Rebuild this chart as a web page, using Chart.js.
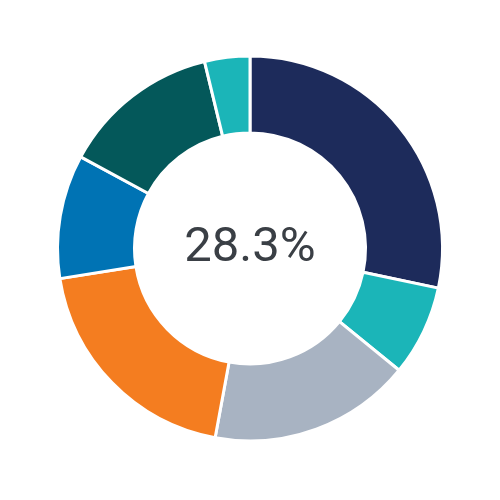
<!DOCTYPE html>
<html>
<head>
<meta charset="utf-8">
<script src="https://cdn.jsdelivr.net/npm/chart.js@4"></script>
<style>
  html, body { margin: 0; padding: 0; background: #fff; }
  #wrap { width: 500px; height: 500px; }
</style>
</head>
<body>
<div id="wrap"><canvas id="chart"></canvas></div>
<script>
var labels = ["A", "B", "C", "D", "E", "F", "G"];
var values = [28.3, 7.6, 17.0, 19.6, 10.4, 13.3, 3.8];
var colors = ["#1d2b5b", "#1bb5b8", "#a8b3c2", "#f47d20", "#0073b4", "#04585a", "#1bb5b8"];
var centerText = "28.3%";

// draw the big number in the hole
var centerLabel = {
  id: 'centerLabel',
  afterDraw: function(chart) {
    var ctx = chart.ctx;
    var meta = chart.getDatasetMeta(0).data[0];
    ctx.save();
    ctx.font = '49px Roboto';
    ctx.fillStyle = '#3a3f45';
    ctx.textAlign = 'center';
    ctx.textBaseline = 'middle';
    ctx.fillText(centerText, meta.x, meta.y);
    ctx.restore();
  }
};

new Chart(document.getElementById("chart"), {
  type: 'doughnut',
  data: {
    labels: labels,
    datasets: [{
      data: values,
      backgroundColor: colors,
      borderColor: '#ffffff',
      borderWidth: 3
    }]
  },
  options: {
    responsive: true,
    maintainAspectRatio: false,
    animation: false,
    cutout: '60%',
    layout: { padding: { left: 56, right: 56, top: 54, bottom: 57 } },
    plugins: {
      legend: { display: false },
      tooltip: { enabled: false }
    }
  },
  plugins: [centerLabel]
});
</script>
</body>
</html>
